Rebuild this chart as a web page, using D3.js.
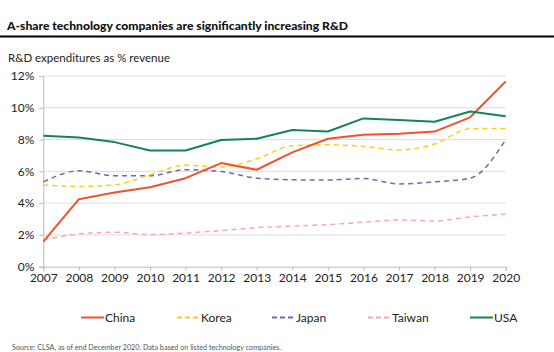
<!DOCTYPE html>
<html><head><meta charset="utf-8">
<script src="https://cdn.jsdelivr.net/npm/d3@7"></script>
<style>
body{margin:0;background:#fff;}
svg{display:block;font-family:Lato, "Open Sans", sans-serif;}
</style></head>
<body>
<svg id="c" width="554" height="352"></svg>
<script>
const years = [2007,2008,2009,2010,2011,2012,2013,2014,2015,2016,2017,2018,2019,2020];
const china  = [1.58,4.25,4.67,5.0,5.57,6.52,6.1,7.19,8.05,8.3,8.37,8.5,9.4,11.65];
const korea  = [5.15,5.05,5.15,5.78,6.39,6.27,6.79,7.61,7.67,7.57,7.34,7.72,8.68,8.7];
const japan  = [5.34,6.03,5.72,5.72,6.1,5.99,5.57,5.47,5.45,5.55,5.21,5.34,5.57,7.99];
const taiwan = [1.68,2.06,2.17,2.02,2.12,2.27,2.46,2.55,2.65,2.8,2.94,2.88,3.13,3.3];
const usa    = [8.24,8.13,7.84,7.31,7.31,7.97,8.05,8.6,8.51,9.33,9.23,9.12,9.77,9.46];
const yTicks = [0,2,4,6,8,10,12];
const seriesNames = ["China","Korea","Japan","Taiwan","USA"];
const seriesValues = [china, korea, japan, taiwan, usa];
const seriesColors = ["#f0522b","#f7d117","#7b63b4","#f4a7ba","#14825b"];
const seriesDashed = [false,true,true,true,false];

const svg = d3.select("#c");
const x = d3.scaleLinear().domain([2007,2020]).range([43.3,505.7]);
const y = d3.scaleLinear().domain([0,12]).range([266.7,76]);

// title
const title = svg.append("text").attr("x",7).attr("y",29.5)
  .attr("font-size",12).attr("font-weight",900).attr("fill","#111")
  .text("A-share technology companies are significantly increasing R&D");
title.attr("textLength",341).attr("lengthAdjust","spacingAndGlyphs");
svg.append("line").attr("x1",0).attr("x2",554).attr("y1",36.5).attr("y2",36.5)
  .attr("stroke","#000").attr("stroke-width",2.2);
svg.append("text").attr("x",8).attr("y",62).attr("font-size",11.5).attr("fill","#222")
  .text("R&D expenditures as % revenue").attr("textLength",162).attr("lengthAdjust","spacingAndGlyphs");

// grid
svg.append("g").selectAll("line").data(yTicks.filter(d=>d>0)).join("line")
  .attr("x1",x(2007)).attr("x2",x(2020)).attr("y1",d=>y(d)).attr("y2",d=>y(d))
  .attr("stroke","#dcdcdc").attr("stroke-width",1);

// y axis
const ya = svg.append("g").attr("transform",`translate(${x(2007)},0)`)
  .call(d3.axisLeft(y).tickValues(yTicks).tickFormat(d=>d+"%").tickSize(4).tickPadding(5));
ya.select(".domain").attr("stroke","#bbb");
ya.selectAll(".tick line").attr("stroke","#bbb");
ya.selectAll(".tick text").attr("font-size",12).attr("fill","#222").attr("font-family","Lato, sans-serif");

// x axis
const xa = svg.append("g").attr("transform",`translate(0,${y(0)})`)
  .call(d3.axisBottom(x).tickValues(years).tickFormat(d3.format("d")).tickSize(4).tickPadding(3));
xa.select(".domain").attr("stroke","#bbb");
xa.selectAll(".tick line").attr("stroke","#bbb");
xa.selectAll(".tick text").attr("font-size",12).attr("fill","#222").attr("font-family","Lato, sans-serif");

// lines
const lineLin = d3.line().x((d,i)=>x(years[i])).y(d=>y(d));
const lineSmooth = d3.line().x((d,i)=>x(years[i])).y(d=>y(d)).curve(d3.curveMonotoneX);
const order = [3,2,1,0,4];
order.forEach(i=>{
  svg.append("path").datum(seriesValues[i])
    .attr("d", seriesDashed[i] ? lineSmooth : lineLin)
    .attr("fill","none").attr("stroke",seriesColors[i])
    .attr("stroke-width", seriesDashed[i] ? 1.5 : 2)
    .attr("stroke-dasharray", seriesDashed[i] ? "5,4" : null)
    .attr("stroke-linejoin","round");
});

// legend
const legX = [81,177,272,368,470];
const lg = svg.append("g");
seriesNames.forEach((n,i)=>{
  lg.append("line").attr("x1",legX[i]).attr("x2",legX[i]+23).attr("y1",317.5).attr("y2",317.5)
    .attr("stroke",seriesColors[i]).attr("stroke-width",2)
    .attr("stroke-dasharray", seriesDashed[i] ? "5,3" : null);
  lg.append("text").attr("x",legX[i]+24).attr("y",322).attr("font-size",12).attr("fill","#222").text(n);
});

// source
svg.append("text").attr("x",12).attr("y",350).attr("font-size",7).attr("fill","#555")
  .text("Source: CLSA, as of end December 2020. Data based on listed technology companies.")
  .attr("textLength",269).attr("lengthAdjust","spacingAndGlyphs");
</script>
</body></html>
